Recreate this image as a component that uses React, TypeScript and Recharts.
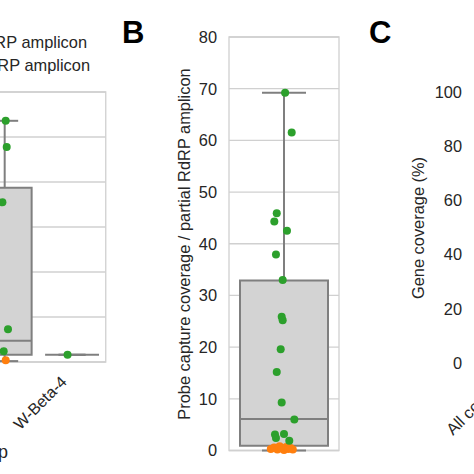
import {
  ComposedChart,
  Scatter,
  XAxis,
  YAxis,
  CartesianGrid,
  ReferenceArea,
  ReferenceLine,
} from "recharts";

const FONT = '"Liberation Sans", Arial, sans-serif';
const TEXT = "#262626";
const GRID = "#d0d0d0";
const BOX_EDGE = "#7f7f7f";
const BOX_FILL = "#d3d3d3";
const GREEN = "#2ca02c";
const ORANGE = "#ff7f0e";
const FS = 16.4;

// panel A (only the right part is in the crop)
const aCategories = ["", "W-Beta-4"];
const aTicks = [0, 10, 20, 30, 40, 50, 60];
const aBoxes = [
  { pos: 0, min: 0.2, q1: 1.6, median: 4.7, q3: 38.7, max: 53.6 },
  { pos: 1, min: 1.6, q1: 1.6, median: 1.6, q3: 1.6, max: 1.6 },
];
const aGreen = [
  { x: 0.015, y: 53.6 },
  { x: 0.03, y: 47.8 },
  { x: -0.034, y: 35.5 },
  { x: 0.049, y: 7.3 },
  { x: -0.015, y: 2.4 },
  { x: 0.933, y: 1.6 },
];
const aOrange = [{ x: 0.015, y: 0.4 }];

// panel B
const bTicks = [0, 10, 20, 30, 40, 50, 60, 70, 80];
const bBoxes = [{ pos: 0, min: 0, q1: 0.9, median: 6.1, q3: 32.9, max: 69.2 }];
const bGreen = [
  { x: 0.01, y: 69.2 },
  { x: 0.07, y: 61.5 },
  { x: -0.066, y: 45.9 },
  { x: -0.088, y: 44.3 },
  { x: 0.027, y: 42.5 },
  { x: -0.073, y: 37.9 },
  { x: -0.012, y: 33.0 },
  { x: -0.021, y: 25.9 },
  { x: -0.012, y: 25.2 },
  { x: -0.03, y: 19.6 },
  { x: -0.066, y: 15.2 },
  { x: -0.021, y: 9.3 },
  { x: 0.094, y: 6.0 },
  { x: 0.0, y: 3.2 },
  { x: -0.082, y: 3.1 },
  { x: -0.073, y: 2.4 },
  { x: 0.048, y: 1.9 },
];
const bOrange = [
  { x: -0.12, y: 0.3 },
  { x: -0.09, y: 0.6 },
  { x: -0.06, y: 0.2 },
  { x: -0.04, y: 0.8 },
  { x: -0.02, y: 0.4 },
  { x: 0.0, y: 0.1 },
  { x: 0.02, y: 0.7 },
  { x: 0.04, y: 0.3 },
  { x: 0.06, y: 0.5 },
  { x: 0.08, y: 0.2 },
];

// panel C (only the y axis is in the crop)
const cTicks = [0, 20, 40, 60, 80, 100];

const dot = (color: string) => (p: any) =>
  <circle cx={p.cx} cy={p.cy} r={4} fill={color} />;

function renderBox(b: any, key: string) {
  const w = 0.4;
  const cap = 0.2;
  return [
    <ReferenceLine key={key + "wu"} segment={[{ x: b.pos, y: b.q3 }, { x: b.pos, y: b.max }]} stroke={BOX_EDGE} strokeWidth={2} ifOverflow="visible" />,
    <ReferenceLine key={key + "wl"} segment={[{ x: b.pos, y: b.min }, { x: b.pos, y: b.q1 }]} stroke={BOX_EDGE} strokeWidth={2} ifOverflow="visible" />,
    <ReferenceLine key={key + "cu"} segment={[{ x: b.pos - cap, y: b.max }, { x: b.pos + cap, y: b.max }]} stroke={BOX_EDGE} strokeWidth={2} ifOverflow="visible" />,
    <ReferenceLine key={key + "cl"} segment={[{ x: b.pos - cap, y: b.min }, { x: b.pos + cap, y: b.min }]} stroke={BOX_EDGE} strokeWidth={2} ifOverflow="visible" />,
    <ReferenceArea key={key + "box"} x1={b.pos - w} x2={b.pos + w} y1={b.q1} y2={b.q3} fill={BOX_FILL} fillOpacity={1} stroke={BOX_EDGE} strokeWidth={2} ifOverflow="visible" />,
    <ReferenceLine key={key + "med"} segment={[{ x: b.pos - w, y: b.median }, { x: b.pos + w, y: b.median }]} stroke={BOX_EDGE} strokeWidth={2} ifOverflow="visible" />,
  ];
}

const RotTick = (props: any) => {
  const { x, y, payload } = props;
  const px = x - 4.25;
  const py = y + 21;
  return (
    <text x={px} y={py} transform={`rotate(-45, ${px}, ${py})`} textAnchor="end" fill={TEXT} fontSize={16}>
      {aCategories[payload.value]}
    </text>
  );
};

const tickStyle = { fill: TEXT, fontSize: FS };

export default function App() {
  return (
    <div
      style={{
        position: "fixed",
        left: 0,
        top: 0,
        width: 474,
        height: 474,
        overflow: "hidden",
        background: "#fff",
        fontFamily: FONT,
      }}
    >
      {/* panel A */}
      <div style={{ position: "absolute", left: -28.75, top: 87 }}>
        <ComposedChart width={139.75} height={375} margin={{ top: 5, right: 5, left: 0, bottom: 0 }}>
          <CartesianGrid horizontal vertical={false} stroke={GRID} strokeWidth={1.3} />
          <XAxis
            type="number"
            dataKey="x"
            domain={[-0.5, 1.5]}
            ticks={[1]}
            axisLine={false}
            tickLine={false}
            tickSize={0}
            tickMargin={0}
            height={100}
            tick={<RotTick />}
          />
          <YAxis type="number" dataKey="y" domain={[0, 60]} ticks={aTicks} hide />
          <ReferenceArea x1={-0.5} x2={1.5} y1={0} y2={60} fill="none" stroke={GRID} strokeWidth={1.3} />
          {aBoxes.map((b, i) => renderBox(b, "a" + i))}
          <Scatter data={aOrange} isAnimationActive={false} shape={dot(ORANGE)} />
          <Scatter data={aGreen} isAnimationActive={false} shape={dot(GREEN)} />
        </ComposedChart>
      </div>

      {/* panel B */}
      <div style={{ position: "absolute", left: 184, top: 27 }}>
        <ComposedChart width={160} height={433.5} margin={{ top: 10, right: 5, left: 0, bottom: 10 }}>
          <CartesianGrid horizontal vertical={false} stroke={GRID} strokeWidth={1.3} />
          <XAxis type="number" dataKey="x" domain={[-0.5, 0.5]} hide />
          <YAxis
            type="number"
            dataKey="y"
            domain={[0, 80]}
            ticks={bTicks}
            width={45}
            axisLine={false}
            tickLine={false}
            tickSize={0}
            tickMargin={12}
            tick={tickStyle}
          />
          <ReferenceArea x1={-0.5} x2={0.5} y1={0} y2={80} fill="none" stroke={GRID} strokeWidth={1.3} />
          {bBoxes.map((b, i) => renderBox(b, "b" + i))}
          <Scatter data={bOrange} isAnimationActive={false} shape={dot(ORANGE)} />
          <Scatter data={bGreen} isAnimationActive={false} shape={dot(GREEN)} />
        </ComposedChart>
      </div>

      {/* panel C */}
      <div style={{ position: "absolute", left: 429, top: 82 }}>
        <ComposedChart width={120} height={291} margin={{ top: 10, right: 0, left: 0, bottom: 10 }}>
          <XAxis type="number" dataKey="x" domain={[-0.5, 0.5]} allowDataOverflow hide />
          <YAxis
            type="number"
            dataKey="y"
            domain={[0, 100]}
            allowDataOverflow
            ticks={cTicks}
            interval={0}
            width={45}
            axisLine={false}
            tickLine={false}
            tickSize={0}
            tickMargin={12}
            tick={tickStyle}
          />
          <ReferenceArea x1={-0.5} x2={0.5} y1={0} y2={100} fill="none" stroke="none" />
        </ComposedChart>
      </div>

      {/* figure texts */}
      <svg width={474} height={474} style={{ position: "absolute", left: 0, top: 0, pointerEvents: "none" }}>
        <text x={87} y={48} textAnchor="end" fontSize={FS} fill={TEXT}>RdRP amplicon</text>
        <text x={90} y={71} textAnchor="end" fontSize={FS} fill={TEXT}>RdRP amplicon</text>
        <text x={122} y={43} fontSize={31} fontWeight="bold" fill="#000">B</text>
        <text x={369} y={43} fontSize={31} fontWeight="bold" fill="#000">C</text>
        <text x={190} y={244} transform="rotate(-90, 190, 244)" textAnchor="middle" fontSize={FS} fill={TEXT}>
          Probe capture coverage / partial RdRP amplicon
        </text>
        <text x={424} y={228} transform="rotate(-90, 424, 228)" textAnchor="middle" fontSize={FS} fill={TEXT}>
          Gene coverage (%)
        </text>
        <text x={453} y={436} transform="rotate(-45, 453, 436)" fontSize={FS} fill={TEXT}>All coronaviruses</text>
        <text x={8} y={458} textAnchor="end" fontSize={18} fill={TEXT}>Group</text>
      </svg>
    </div>
  );
}
